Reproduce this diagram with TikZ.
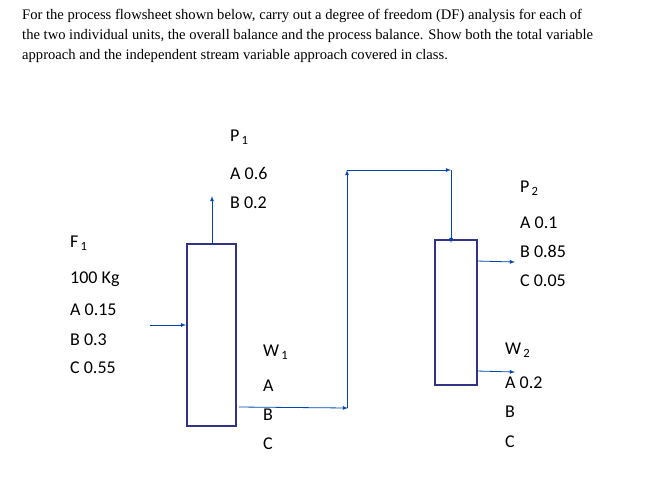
\documentclass[tikz,border=0pt]{standalone}
\usepackage{fontspec}
\setmainfont{Liberation Serif}
\newfontfamily\carlitofont{Carlito}
\begin{document}
\begin{tikzpicture}[x=1pt,y=-1pt,
  unit/.style={draw=blue!40!black!80,line width=2pt},
  flow/.style={draw=blue!60!cyan!70!black,line width=0.8pt,-latex},
  lab/.style={font=\carlitofont\fontsize{18}{20}\selectfont,anchor=west,inner sep=0pt}]
\useasboundingbox (0,0) rectangle (668,483);
\node[anchor=north west,inner sep=0pt,align=left,font=\fontsize{14.6}{20}\selectfont] (hdr) at (22,9)
{For the process flowsheet shown below, carry out a degree of freedom (DF) analysis for each of\\
the two individual units, the overall balance and the process balance. Show both the total variable\\
approach and the independent stream variable approach covered in class.};
\draw[unit] (187,244) rectangle (236,426);
\draw[unit] (435,240) rectangle (477,385);
\coordinate (u1t) at (212,244); \coordinate (p1e) at (212,196);
\coordinate (fs) at (150,325); \coordinate (u1l) at (186,325);
\coordinate (w1s) at (239,407); \coordinate (w1e) at (348,408);
\coordinate (c1) at (347,408); \coordinate (c2) at (347,170);
\coordinate (c3) at (451,170); \coordinate (u2t) at (451,243);
\coordinate (p2s) at (477,261); \coordinate (p2e) at (515,262);
\coordinate (w2s) at (477,371); \coordinate (w2e) at (515,372);
\draw[flow] (u1t) -- (p1e);
\draw[flow] (fs) -- (u1l);
\draw[flow] (w1s) -- (w1e);
\draw[flow] (c1) -- (c2);
\draw[flow] (c2) -- (c3);
\draw[flow] (c3) -- (u2t);
\draw[flow] (p2s) -- (p2e);
\draw[flow] (w2s) -- (w2e);
\node[lab] (p1) at (230,137) {P\textsubscript{\,1}};
\node[lab] (p1a) at (230,173) {A 0.6};
\node[lab] (p1b) at (230,203) {B 0.2};
\node[lab] (f1) at (70,243) {F\textsubscript{\,1}};
\node[lab] (f1m) at (70,279) {100 Kg};
\node[lab] (f1a) at (70,310) {A 0.15};
\node[lab] (f1b) at (70,340) {B 0.3};
\node[lab] (f1c) at (70,368) {C 0.55};
\node[lab] (w1) at (263,352) {W\textsubscript{\,1}};
\node[lab] (w1a) at (263,386) {A};
\node[lab] (w1b) at (263,415) {B};
\node[lab] (w1c) at (263,444) {C};
\node[lab] (p2) at (520,188) {P\textsubscript{\,2}};
\node[lab] (p2a) at (520,223) {A 0.1};
\node[lab] (p2b) at (520,251) {B 0.85};
\node[lab] (p2c) at (520,281) {C 0.05};
\node[lab] (w2) at (505,350) {W\textsubscript{\,2}};
\node[lab] (w2a) at (505,383) {A 0.2};
\node[lab] (w2b) at (505,412) {B};
\node[lab] (w2c) at (505,442) {C};
\end{tikzpicture}
\end{document}
